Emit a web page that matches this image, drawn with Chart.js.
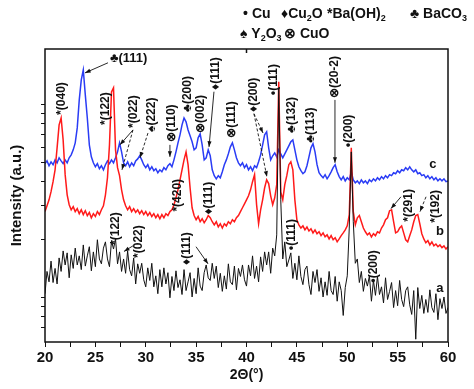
<!DOCTYPE html>
<html>
<head>
<meta charset="utf-8">
<script src="https://cdn.jsdelivr.net/npm/chart.js@4.4.1/dist/chart.umd.min.js"></script>
<style>
  html, body { margin: 0; padding: 0; background: #fff; }
  #wrap { width: 474px; height: 389px; }
</style>
</head>
<body>
<div id="wrap"><canvas id="xrd" width="474" height="389"></canvas></div>
<script>
// ---------- data: scans sampled every 0.2 deg from 20 to 60 (2-theta) ----------
const angleStart = 20;
const angleStep = 0.2;

// intensity (a.u.)
const scanA = [
  105,137,121,155,120,142,118,161,137,175,
  148,171,127,167,142,181,148,165,140,188,
  146,165,184,138,173,145,200,159,150,181,
  195,159,145,198,179,202,150,173,137,159,
  134,175,140,130,161,118,150,134,151,124,
  114,143,123,151,114,130,105,140,114,143,
  118,135,100,129,109,138,113,124,104,140,
  109,121,135,101,126,105,143,115,109,135,
  148,127,123,151,126,146,113,134,108,130,
  111,150,121,117,146,110,142,129,148,124,
  115,148,130,165,126,146,121,163,137,173,
  148,173,134,181,165,212,1226,322,159,195,
  145,157,171,126,151,124,165,129,117,140,
  146,117,104,137,120,140,108,127,101,121,
  103,137,109,104,129,96,121,109,81,113,
  130,230,571,248,151,159,120,137,108,126,
  115,130,96,123,103,129,104,114,94,127,
  98,108,120,89,109,91,123,98,90,109,
  114,92,82,109,61,113,88,103,83,98,
  84,110,89,84,105,77,99,88,101,83,
  89
];
const scanB = [
  280,300,322,355,400,461,599,788,856,659,
  435,342,304,286,297,280,290,273,286,270,
  283,267,277,260,273,264,280,270,286,300,
  342,419,621,1168,1226,585,473,430,363,322,
  300,286,297,280,290,277,286,273,283,270,
  280,267,277,264,273,260,270,257,270,260,
  273,267,280,286,304,330,363,409,461,519,
  571,490,372,293,267,254,264,248,257,245,
  254,267,260,248,239,248,233,242,230,242,
  236,248,242,254,248,260,267,280,293,307,
  322,338,363,400,435,304,242,286,322,372,
  409,391,338,304,330,386,1317,354,322,386,
  430,490,507,461,322,254,239,230,236,225,
  233,222,228,217,225,215,220,210,217,207,
  212,202,210,200,205,195,202,210,217,225,
  236,270,599,280,239,260,267,248,230,220,
  212,217,207,215,210,220,217,230,239,254,
  260,283,286,248,217,220,230,236,217,200,
  195,210,225,248,267,270,242,215,202,193,
  198,188,195,186,190,184,188,182,186,179,
  184
];
const scanC = [
  496,513,484,507,490,519,501,532,513,496,
  519,501,532,551,585,636,760,1062,1348,1518,
  1127,856,621,538,501,478,496,467,484,461,
  490,513,496,519,501,532,571,636,571,501,
  484,507,478,501,484,513,525,545,519,490,
  473,490,461,478,456,467,445,461,450,473,
  461,484,496,478,519,571,636,700,788,856,
  817,742,692,644,585,599,675,708,621,519,
  532,585,545,461,430,414,430,419,450,490,
  519,558,606,636,585,532,501,484,501,473,
  490,461,478,456,484,473,507,551,621,700,
  725,599,519,545,564,538,585,558,532,558,
  585,614,644,659,585,519,478,456,440,450,
  484,538,599,629,571,490,445,430,419,435,
  414,430,450,473,490,450,425,409,425,404,
  419,409,450,409,395,404,391,409,395,404,
  391,409,400,414,404,419,409,425,414,430,
  419,435,430,445,440,456,445,461,456,473,
  461,478,461,450,461,440,445,430,435,419,
  430,414,425,409,419,404,414,404,414,400,
  404
];

const xLabelValues = [20, 25, 30, 35, 40, 45, 50, 55, 60];
const yTickValues = [70, 80, 90, 100, 200, 300, 400, 500, 600, 700, 800, 900, 1000];

// peak labels, anchored at the bottom of the rotated text [text, 2theta, intensity]
const peakLabels = [
  ["*(040)", 21.69, 888], ["*(122)", 26.05, 788], ["*(022)", 28.83, 760],
  ["\u2660(222)", 30.62, 724], ["\u2297(110)", 32.6, 644], ["\u2663(200)", 34.19, 920],
  ["\u2297(002)", 35.48, 716], ["\u2666(111)", 36.97, 1196], ["\u2297(111)", 38.56, 675],
  ["\u2666(200)", 40.74, 920], ["\u2022(111)", 42.73, 1127], ["\u2663(132)", 44.52, 716],
  ["\u2663(113)", 46.4, 636], ["\u2297(20-2)", 48.78, 1086], ["\u2022(200)", 50.17, 606],
  ["*(420)", 33.2, 280], ["\u2666(111)", 36.28, 270], ["\u2666(111)", 34.09, 148],
  ["*(122)", 27.05, 188], ["*(022)", 29.33, 161], ["\u2022(111)", 44.52, 177],
  ["\u2022(200)", 52.66, 120], ["*(291)", 56.13, 248], ["*(192)", 58.81, 245]
];
// [from 2theta, from intensity, to 2theta, to intensity, dashed]
const peakArrows = [
  [26.25, 1654, 23.97, 1466, false],
  [28.73, 742, 27.44, 621, false], [28.73, 742, 27.64, 461, true],
  [30.22, 715, 29.43, 532, true],
  [32.4, 621, 32.4, 538, false],
  [36.77, 1171, 36.28, 606, false],
  [40.74, 900, 41.64, 716, true], [40.74, 900, 42.03, 424, true],
  [48.78, 1062, 48.78, 501, false],
  [34.99, 184, 36.18, 150, false],
  [28.73, 186, 27.84, 174, false],
  [55.33, 334, 54.34, 290, false],
  [57.82, 334, 57.22, 280, true]
];
const curveNames = [["c", 58.51, 490], ["b", 59.2, 220], ["a", 59.2, 112]];

const FONT = '"Liberation Sans", Arial, sans-serif';
const toPoints = (arr) => arr.map((v, i) => ({ x: +(angleStart + i * angleStep).toFixed(1), y: v }));

function drawRich(ctx, str, x, y, size) {
  str.split(/_(\d)/).forEach((p, i) => {
    const sub = i % 2 === 1;
    ctx.font = `bold ${sub ? Math.round(size * 0.62) : size}px ${FONT}`;
    ctx.fillText(p, x, sub ? y + 3 : y);
    x += ctx.measureText(p).width;
  });
}

function arrow(ctx, x1, y1, x2, y2, dashed) {
  ctx.setLineDash(dashed ? [3, 2] : []);
  ctx.beginPath();
  ctx.moveTo(x1, y1);
  ctx.lineTo(x2, y2);
  ctx.stroke();
  ctx.setLineDash([]);
  const a = Math.atan2(y2 - y1, x2 - x1);
  ctx.beginPath();
  ctx.moveTo(x2, y2);
  ctx.lineTo(x2 - 6 * Math.cos(a - 0.35), y2 - 6 * Math.sin(a - 0.35));
  ctx.lineTo(x2 - 6 * Math.cos(a + 0.35), y2 - 6 * Math.sin(a + 0.35));
  ctx.closePath();
  ctx.fill();
}

const xrdDecor = {
  id: "xrdDecor",
  afterDatasetsDraw(chart) {
    const { ctx, chartArea: area, scales: { x, y } } = chart;
    ctx.save();
    ctx.fillStyle = "#111";
    ctx.strokeStyle = "#111";

    // frame + top tick
    ctx.lineWidth = 1.5;
    ctx.strokeRect(area.left, area.top, area.right - area.left, area.bottom - area.top);
    ctx.beginPath();
    ctx.moveTo(x.getPixelForValue(40), area.top);
    ctx.lineTo(x.getPixelForValue(40), area.top + 4);
    ctx.stroke();

    // arrows
    ctx.lineWidth = 0.9;
    peakArrows.forEach(([t1, v1, t2, v2, d]) => {
      arrow(ctx, x.getPixelForValue(t1), y.getPixelForValue(v1), x.getPixelForValue(t2), y.getPixelForValue(v2), d);
    });

    // rotated hkl labels
    ctx.font = `bold 12px ${FONT}`;
    ctx.textAlign = "left";
    ctx.textBaseline = "middle";
    peakLabels.forEach(([txt, t, v]) => {
      ctx.save();
      ctx.translate(x.getPixelForValue(t), y.getPixelForValue(v));
      ctx.rotate(-Math.PI / 2);
      ctx.fillText(txt, 0, 0);
      ctx.restore();
    });

    // BaCO3 (111), written flat
    ctx.font = `bold 13px ${FONT}`;
    ctx.fillText("\u2663(111)", x.getPixelForValue(26.45), y.getPixelForValue(1752));

    ctx.textAlign = "center";
    curveNames.forEach(([n, t, v]) => ctx.fillText(n, x.getPixelForValue(t), y.getPixelForValue(v)));

    // phase key above the plot
    ctx.textAlign = "left";
    ctx.textBaseline = "alphabetic";
    [[243, 18, "\u2022"], [252, 18, "Cu"], [281, 18, "\u2666Cu_2O"], [327, 18, "*Ba(OH)_2"],
     [410, 18, "\u2663 BaCO_3"], [240, 38, "\u2660 Y_2O_3"], [284, 38, "\u2297 CuO"]]
      .forEach(([lx, ly, s]) => drawRich(ctx, s, lx, ly, 14));
    ctx.restore();
  }
};

new Chart(document.getElementById("xrd"), {
  type: "line",
  data: {
    datasets: [
      { label: "a", data: toPoints(scanA), borderColor: "#111111", borderWidth: 1 },
      { label: "b", data: toPoints(scanB), borderColor: "#ff1a1a", borderWidth: 1.5 },
      { label: "c", data: toPoints(scanC), borderColor: "#2a3cf5", borderWidth: 1.5 }
    ]
  },
  options: {
    responsive: false,
    animation: false,
    elements: { point: { radius: 0 }, line: { tension: 0 } },
    layout: { padding: { top: 49, right: 26, left: 0, bottom: 0 } },
    plugins: { legend: { display: false }, tooltip: { enabled: false } },
    scales: {
      x: {
        type: "linear", min: 20, max: 60,
        afterFit: (s) => { s.height = 47; },
        border: { display: false },
        grid: { drawOnChartArea: false, tickLength: 5, color: "#111" },
        ticks: {
          stepSize: 2.5, autoSkip: false, maxRotation: 0, padding: 2, color: "#111",
          font: { family: FONT, size: 15, weight: "bold" },
          callback: (v) => (xLabelValues.includes(v) ? String(v) : "")
        },
        title: { display: true, text: "2\u0398(\u00b0)", color: "#111", padding: { top: 0, bottom: 5 },
          font: { family: FONT, size: 14, weight: "bold" } }
      },
      y: {
        type: "logarithmic", min: 59, max: 1950,
        afterBuildTicks: (s) => { s.ticks = yTickValues.map((v) => ({ value: v })); },
        afterFit: (s) => { s.width = 45; },
        border: { display: false },
        grid: { drawOnChartArea: false, tickLength: 4, color: "#111" },
        ticks: { display: false },
        title: { display: true, text: "Intensity (a.u.)", color: "#111", padding: { top: 8, bottom: 0 },
          font: { family: FONT, size: 15, weight: "bold" } }
      }
    }
  },
  plugins: [xrdDecor]
});
</script>
</body>
</html>
